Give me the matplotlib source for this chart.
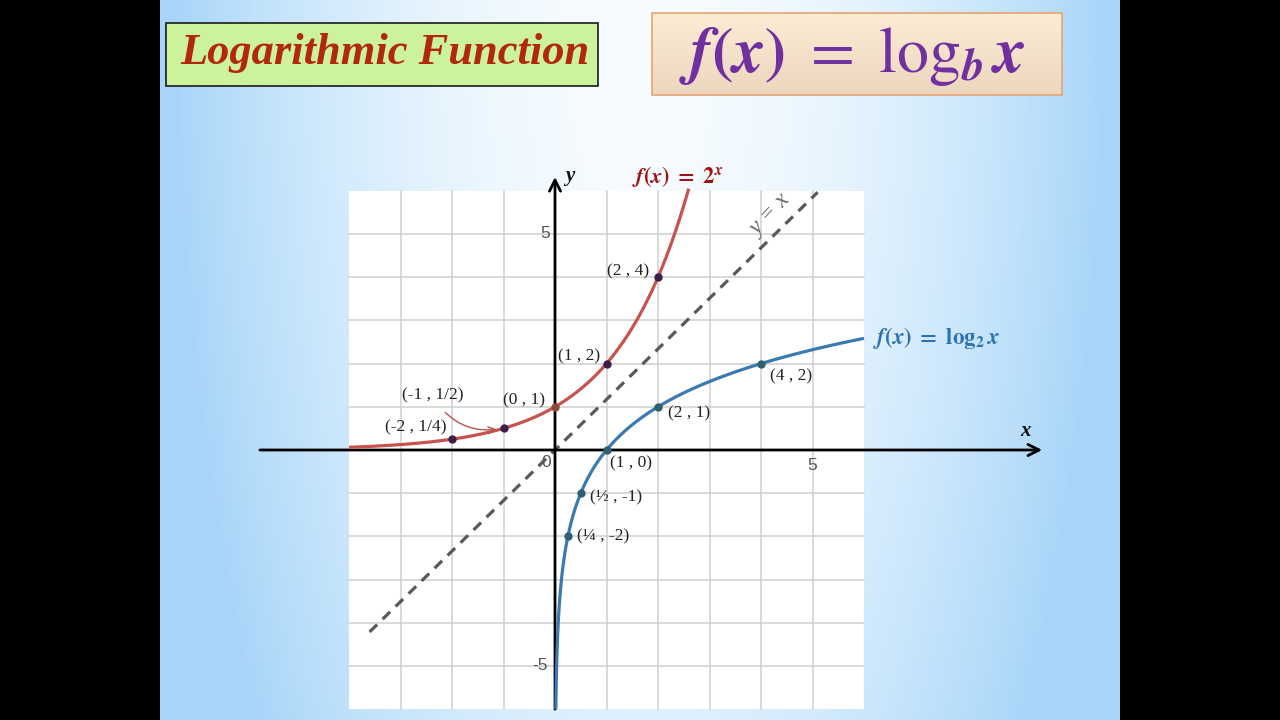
import numpy as np
import matplotlib
matplotlib.use('Agg')
import matplotlib.pyplot as plt
from matplotlib.patches import Rectangle

plt.rcParams['mathtext.fontset'] = 'stix'

# ---------------- data ----------------
exp_x = [-2, -1, 0, 1, 2]
exp_y = [0.25, 0.5, 1, 2, 4]
exp_labels = ['(-2 , 1/4)', '(-1 , 1/2)', '(0 , 1)', '(1 , 2)', '(2 , 4)']
log_x = [0.25, 0.5, 1, 2, 4]
log_y = [-2, -1, 0, 1, 2]
log_labels = ['(\u00bc , -2)', '(\u00bd , -1)', '(1 , 0)', '(2 , 1)', '(4 , 2)']
diag_x = [-3.6, 5.1]
diag_slope = 1.17
grid_x = list(range(-3, 6))
grid_y = list(range(-5, 6))
tick_vals = [5, -5]

# ---------------- figure ----------------
W, H = 1280, 720
fig = plt.figure(figsize=(12.8, 7.2), dpi=100)

# background (pixel coordinates)
bg = fig.add_axes([0, 0, 1, 1])
bg.set_xlim(0, W)
bg.set_ylim(H, 0)
bg.axis('off')

yy, xx = np.mgrid[0:720, 160:1120]
w = np.clip(np.abs(xx - 640) / 470.0, 0, 1) ** 1.9 + 0.3 * (yy / 720.0) ** 2
w = np.clip(w, 0, 1)
white = np.array([247, 252, 255]) / 255.0
blue = np.array([166, 213, 249]) / 255.0
img = white[None, None, :] * (1 - w[..., None]) + blue[None, None, :] * w[..., None]
bg.imshow(img, extent=(160, 1120, 720, 0), aspect='auto', zorder=0)
bg.add_patch(Rectangle((0, 0), 160, 720, fc='black', ec='none', zorder=1))
bg.add_patch(Rectangle((1120, 0), 160, 720, fc='black', ec='none', zorder=1))

# title box
bg.add_patch(Rectangle((166, 23), 432, 63, fc='#ccf29c', ec='#1a1a1a', lw=1.2, zorder=2))
bg.text(385, 53, 'Logarithmic Function', ha='center', va='center',
        family='Liberation Serif', weight='bold', style='italic',
        fontsize=32, color='#b2280c', zorder=3)

# formula box
gy = np.linspace(0, 1, 100)[:, None, None]
top = np.array([253, 236, 212]) / 255.0
bot = np.array([236, 214, 190]) / 255.0
grad = top * (1 - gy) + bot * gy
grad = np.repeat(grad, 4, axis=1)
bg.imshow(grad, extent=(652, 1062, 95, 13), aspect='auto', zorder=2)
bg.add_patch(Rectangle((652, 13), 410, 82, fc='none', ec='#e6a46e', lw=1.2, zorder=3))
bg.text(852, 57, r'$\mathbfit{f}\mathbf{(}\mathbfit{x}\mathbf{)}\ =\ \mathrm{log}_{\mathbfit{b}}\,\mathbfit{x}$',
        ha='center', va='center', fontsize=46, color='#7030a0', zorder=4)
bg.set_xlim(0, W)
bg.set_ylim(H, 0)

# ---------------- main graph axes ----------------
X0, UX, Y0, UY = 555.0, 51.5, 450.0, 43.2
ax = fig.add_axes([0, 0, 1, 1])
ax.patch.set_alpha(0)
ax.axis('off')
ax.set_xlim(-X0 / UX, (W - X0) / UX)
ax.set_ylim((Y0 - H) / UY, Y0 / UY)

ax.add_patch(Rectangle((-4, -6), 10, 12, fc='white', ec='none', zorder=0))
for gx in grid_x:
    ax.plot([gx, gx], [-6, 6], color='#cfcfcf', lw=1.1, zorder=1)
for gyv in grid_y:
    ax.plot([-4, 6], [gyv, gyv], color='#cfcfcf', lw=1.1, zorder=1)

# axes with arrows
ax.annotate('', xy=(9.46, 0), xytext=(-5.73, 0),
            arrowprops=dict(arrowstyle='->', lw=2, color='black', mutation_scale=20,
                            shrinkA=0, shrinkB=0), zorder=3)
ax.annotate('', xy=(0, 6.32), xytext=(0, -6),
            arrowprops=dict(arrowstyle='->', lw=2, color='black', mutation_scale=20,
                            shrinkA=0, shrinkB=0), zorder=3)

# tick labels
tick_kw = dict(family='Liberation Sans', fontsize=12.5, color='#555555', zorder=4)
ax.text(tick_vals[0], -0.37, str(tick_vals[0]), ha='center', va='center', **tick_kw)
ax.text(-0.2, tick_vals[0], str(tick_vals[0]), ha='center', va='center', **tick_kw)
ax.text(-0.3, tick_vals[1], str(tick_vals[1]), ha='center', va='center', **tick_kw)
ax.text(-0.18, -0.3, '0', ha='center', va='center', **tick_kw)

# axis names
ax.text(9.13, 0.45, 'x', family='Liberation Serif', weight='bold', style='italic',
        fontsize=15, ha='center', va='center', color='#111111')
ax.text(0.29, 6.34, 'y', family='Liberation Serif', weight='bold', style='italic',
        fontsize=15, ha='center', va='center', color='#111111')

# dashed y = x
ax.plot(diag_x, [diag_slope * v for v in diag_x], ls=(0, (3.3, 2.4)),
        color='#595959', lw=2.3, zorder=2)
ax.text(4.2, 5.43, 'y = x', rotation=47, family='Liberation Serif', style='italic',
        fontsize=17, color='#6a6a6a', ha='center', va='center', zorder=4)

# curves
red = '#c8524d'
blue_c = '#3b79b2'
xr = np.linspace(-4, np.log2(6.05), 400)
ax.plot(xr, 2.0 ** xr, color=red, lw=2.3, zorder=3, solid_capstyle='butt')
yb = np.linspace(-6, np.log2(6), 600)
ax.plot(2.0 ** yb, yb, color=blue_c, lw=2.3, zorder=3, solid_capstyle='butt')

# points
exp_dot = ['#3b1f4a', '#3b1f4a', '#8a4a3a', '#3b1f4a', '#3b1f4a']
for px, py, c in zip(exp_x, exp_y, exp_dot):
    ax.plot(px, py, 'o', ms=5, color=c, zorder=5)
ax.plot(log_x, log_y, 'o', ms=5, color='#2f5f70', zorder=5, ls='none')

lab_kw = dict(family='Liberation Serif', fontsize=12.5, color='#222222',
              ha='center', va='center', textcoords='offset pixels', zorder=6)
exp_off = [(-36, 12), (-71, 33), (-31, 6), (-27, 7), (-30, 6)]
for px, py, t, o in zip(exp_x, exp_y, exp_labels, exp_off):
    if t == '(-1 , 1/2)':
        continue
    ax.annotate(t, xy=(px, py), xytext=o, **lab_kw)
ax.annotate(exp_labels[1], xy=(exp_x[1], exp_y[1]), xytext=exp_off[1],
            arrowprops=dict(arrowstyle='->', color='#b5544a', lw=1,
                            connectionstyle='arc3,rad=0.35', shrinkA=6, shrinkB=5),
            **lab_kw)
log_off = [(35, 0), (35, -4), (25, -13), (31, -7), (30, -13)]
for px, py, t, o in zip(log_x, log_y, log_labels, log_off):
    ax.annotate(t, xy=(px, py), xytext=o, **lab_kw)

# function labels
ax.text(2.38, 6.33, r'$\mathbfit{f}\mathbf{(}\mathbfit{x}\mathbf{)}\ \mathbf{=}\ \mathbf{2}^{\mathbfit{x}}$',
        fontsize=16, color='#a01414', ha='center', va='center', zorder=6)
ax.text(7.4, 2.6, r'$\mathbfit{f}\mathbf{(}\mathbfit{x}\mathbf{)}\ \mathbf{=}\ \mathbf{log_2}\,\mathbfit{x}$',
        fontsize=16.5, color='#2e72b0', ha='center', va='center', zorder=6)

fig.savefig('out.png', dpi=100)
